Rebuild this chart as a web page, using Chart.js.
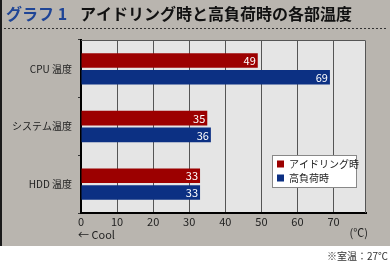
<!DOCTYPE html>
<html>
<head>
<meta charset="utf-8">
<script src="https://cdn.jsdelivr.net/npm/chart.js@4"></script>
<style>
  html, body { margin: 0; padding: 0; background: #fff; }
  #wrap { width: 390px; height: 265px; position: relative; }
</style>
</head>
<body>
<div id="wrap"><canvas id="chart" width="390" height="265"></canvas></div>
<script>
// ── Data ──────────────────────────────────────────
const categories = ['CPU 温度', 'システム温度', 'HDD 温度'];
const idleTemps  = [49, 35, 33];
const loadTemps  = [69, 36, 33];
const seriesNames = ['アイドリング時', '高負荷時'];
const xTicks = [0, 10, 20, 30, 40, 50, 60, 70];

const JP = '"Noto Sans CJK JP", "Noto Sans", sans-serif';
const BG_GRAY = '#b9b5af';

// ── Background, title, notes, legend, value labels ──
const decor = {
  id: 'decor',
  beforeDraw(chart) {
    const { ctx, chartArea: a } = chart;
    ctx.save();
    ctx.fillStyle = '#fff';
    ctx.fillRect(0, 0, 390, 265);
    ctx.fillStyle = BG_GRAY;
    ctx.fillRect(0, 0, 390, 246);
    ctx.fillStyle = '#1a1a1a';
    ctx.fillRect(0, 0, 2, 246);
    // plot background
    ctx.fillStyle = '#e5e5e5';
    ctx.fillRect(a.left, a.top, a.right - a.left, a.bottom - a.top);

    // title
    ctx.textBaseline = 'middle';
    ctx.font = 'bold 16px ' + JP;
    ctx.fillStyle = '#1f4596';
    ctx.fillText('グラフ 1', 6, 14);
    ctx.fillStyle = '#111';
    ctx.fillText('アイドリング時と高負荷時の各部温度', 80, 14);

    // dashed rule
    ctx.strokeStyle = '#333';
    ctx.lineWidth = 1;
    ctx.setLineDash([2, 2]);
    ctx.beginPath();
    ctx.moveTo(4, 28.5);
    ctx.lineTo(386, 28.5);
    ctx.stroke();
    ctx.setLineDash([]);
    ctx.restore();
  },
  afterDraw(chart) {
    const { ctx, chartArea: a } = chart;
    ctx.save();
    // frame top/right
    ctx.strokeStyle = '#555';
    ctx.lineWidth = 1;
    ctx.beginPath();
    ctx.moveTo(a.left, a.top + 0.5);
    ctx.lineTo(a.right - 0.5, a.top + 0.5);
    ctx.lineTo(a.right - 0.5, a.bottom);
    ctx.stroke();

    ctx.fillStyle = '#222';
    ctx.font = '11px ' + JP;
    ctx.textBaseline = 'middle';
    ctx.textAlign = 'left';
    ctx.fillText('← Cool', 78, 235);
    ctx.textAlign = 'right';
    ctx.fillText('(℃)', 368, 233);
    ctx.fillStyle = '#333';
    ctx.font = '10px ' + JP;
    ctx.fillText('※室温：27℃', 388, 256);

    // legend box
    const lx = 272, ly = 155, lw = 84, lh = 32;
    ctx.fillStyle = '#fff';
    ctx.fillRect(lx, ly, lw, lh);
    ctx.strokeStyle = '#888';
    ctx.strokeRect(lx + 0.5, ly + 0.5, lw, lh);
    ctx.textAlign = 'left';
    ctx.font = '10px ' + JP;
    chart.data.datasets.forEach((ds, i) => {
      const y = ly + 9 + i * 14;
      ctx.fillStyle = ds.backgroundColor;
      ctx.fillRect(lx + 5, y - 3.5, 7, 7);
      ctx.fillStyle = '#222';
      ctx.fillText(ds.label, lx + 17, y);
    });

    // value labels inside bar ends
    ctx.fillStyle = '#fff';
    ctx.font = '11px ' + JP;
    ctx.textAlign = 'right';
    chart.data.datasets.forEach((ds, i) => {
      chart.getDatasetMeta(i).data.forEach((bar, j) => {
        ctx.fillText(String(ds.data[j]), bar.x - 2, bar.y + 0.5);
      });
    });
    ctx.restore();
  }
};

new Chart(document.getElementById('chart'), {
  type: 'bar',
  data: {
    labels: categories,
    datasets: [
      { label: seriesNames[0], data: idleTemps, backgroundColor: '#9c0000' },
      { label: seriesNames[1], data: loadTemps, backgroundColor: '#0c3083' }
    ]
  },
  options: {
    indexAxis: 'y',
    responsive: false,
    animation: false,
    devicePixelRatio: 1,
    layout: { padding: { top: 40, right: 24, left: 0, bottom: 0 } },
    categoryPercentage: 0.58,
    barPercentage: 0.87,
    plugins: { legend: { display: false }, tooltip: { enabled: false } },
    scales: {
      x: {
        min: 0, max: 79,
        afterBuildTicks: s => { s.ticks = xTicks.map(v => ({ value: v })); },
        afterFit: s => { s.height = 52; },
        grid: { color: '#555', lineWidth: 1, drawTicks: false },
        border: { color: '#000', width: 2 },
        ticks: { color: '#222', font: { size: 11, family: JP }, padding: 2, maxRotation: 0 }
      },
      y: {
        afterFit: s => { s.width = 81; },
        grid: { drawOnChartArea: false, tickLength: 3, color: '#333', offset: true },
        border: { color: '#000', width: 2 },
        ticks: { color: '#222', font: { size: 10, family: JP }, padding: 6 }
      }
    }
  },
  plugins: [decor]
});
</script>
</body>
</html>
